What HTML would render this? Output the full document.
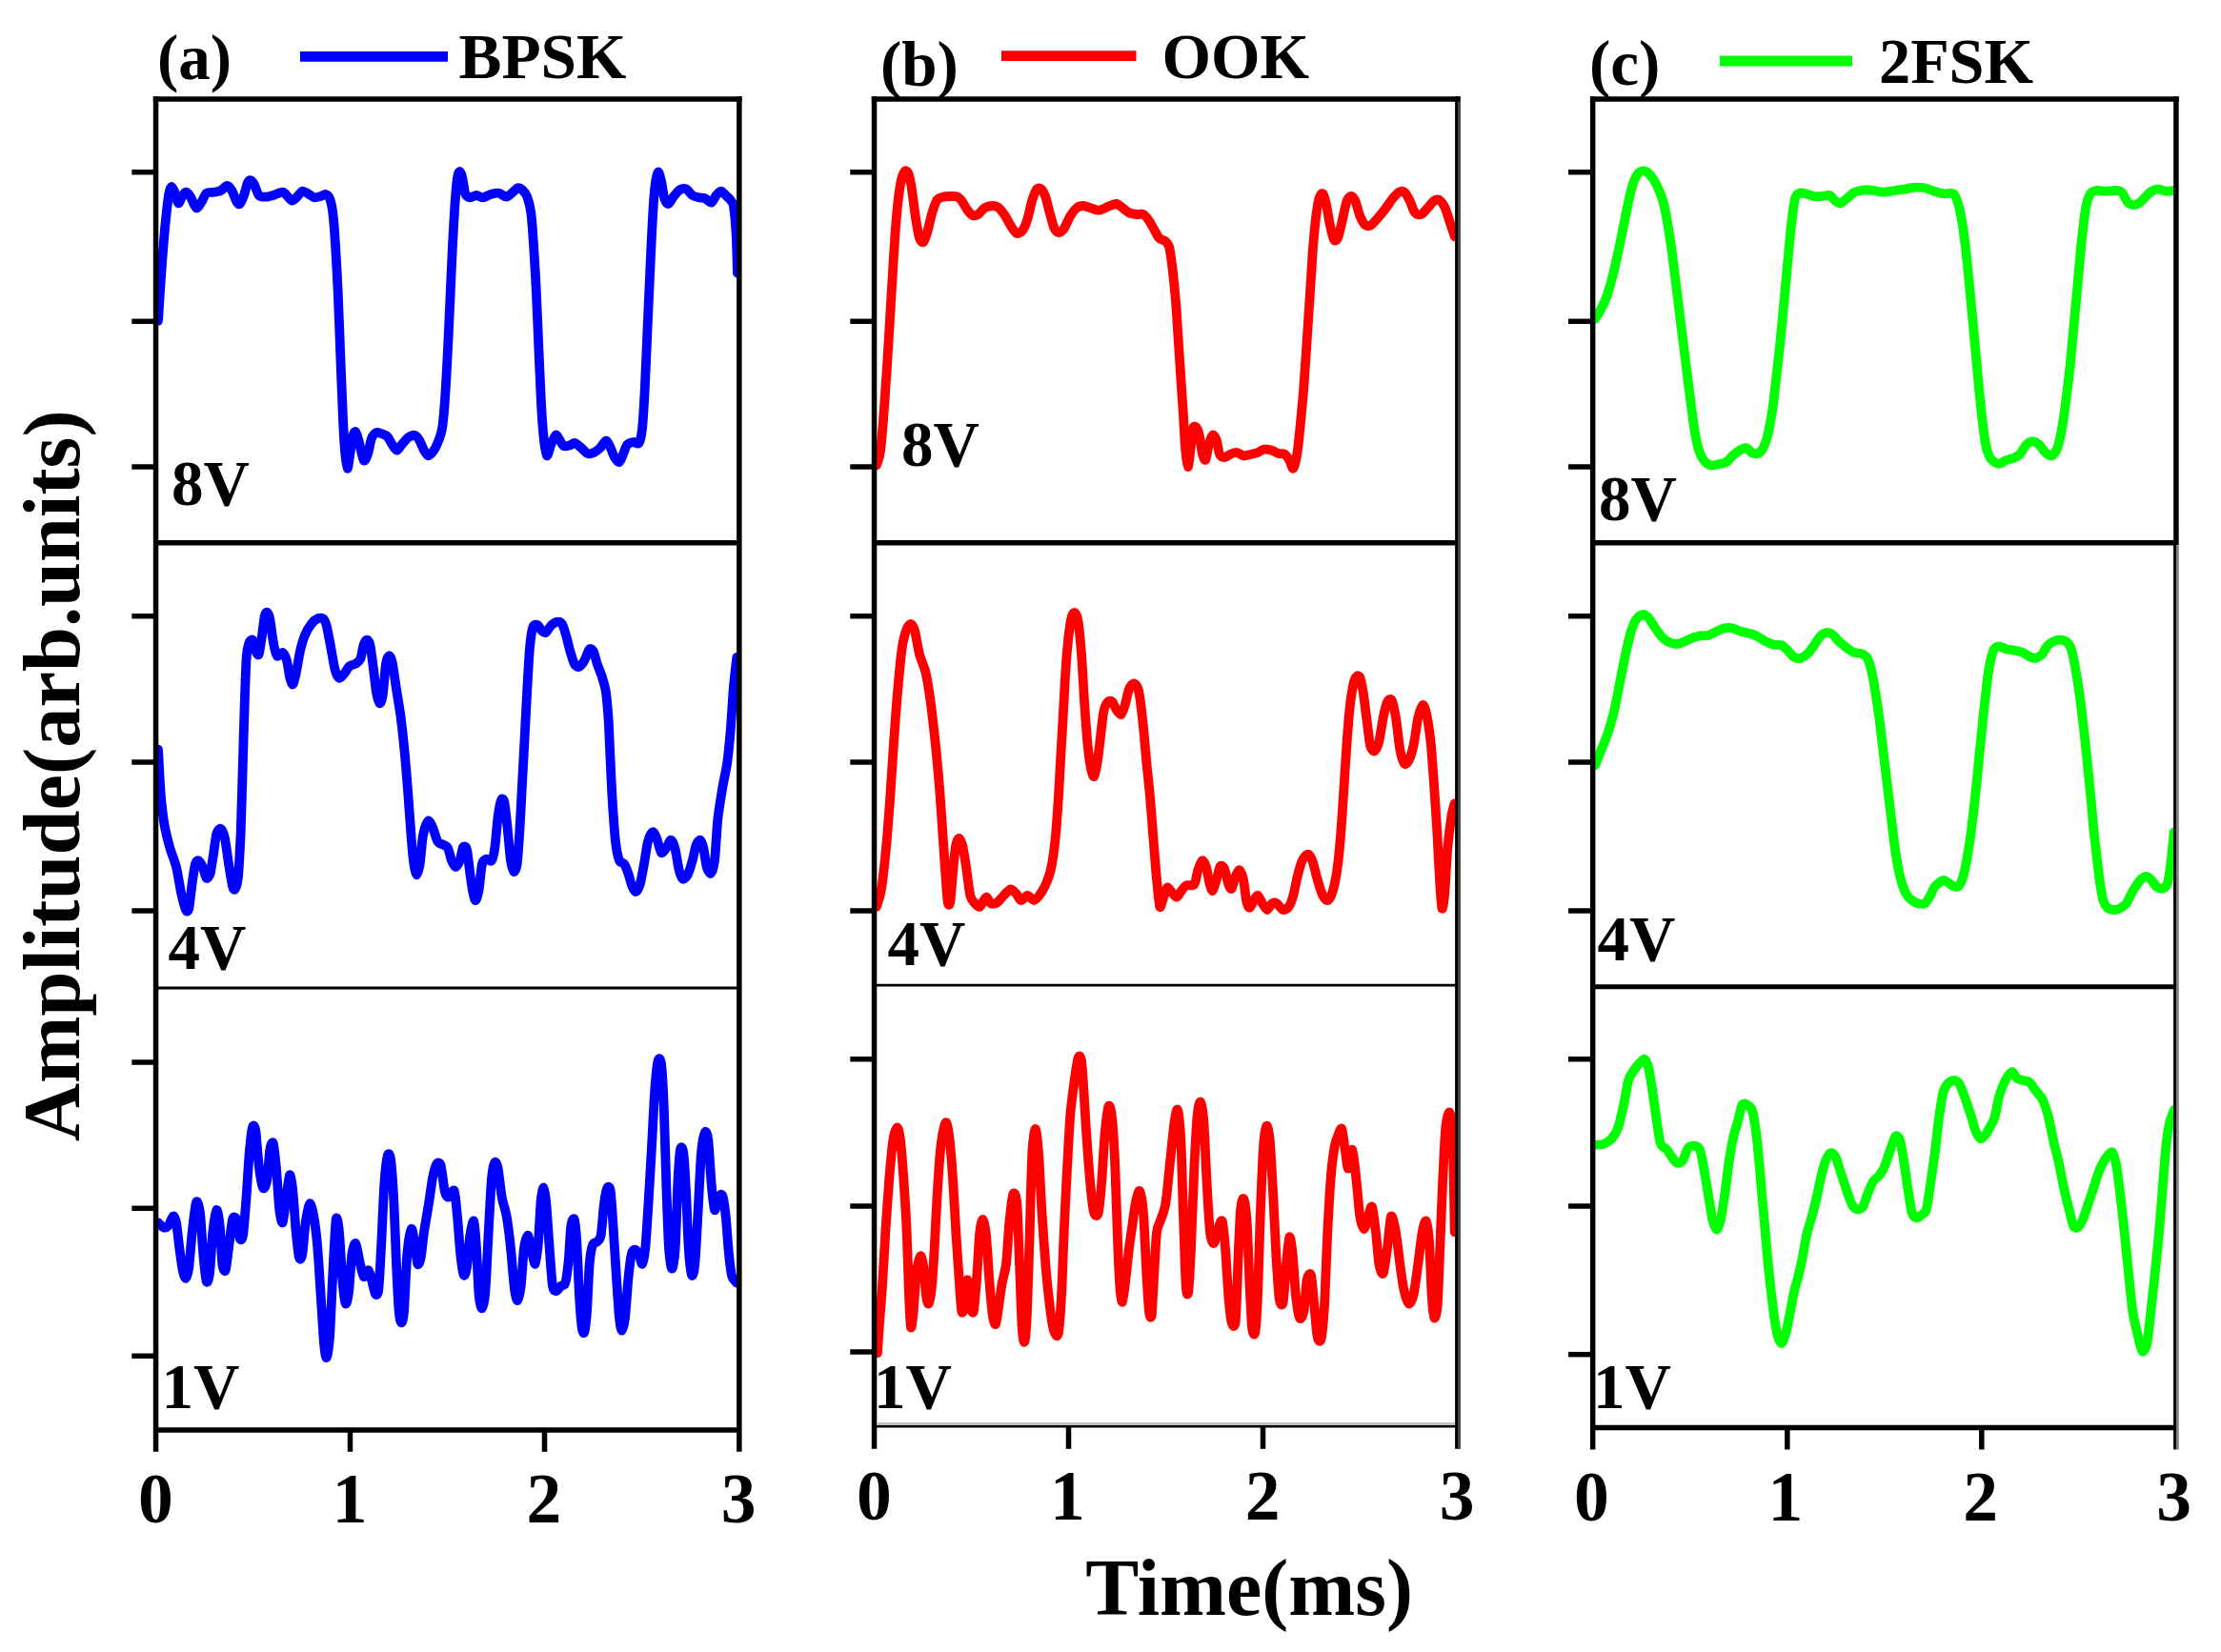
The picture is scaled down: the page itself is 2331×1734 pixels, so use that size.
<!DOCTYPE html>
<html lang="en"><head><meta charset="utf-8"><title>Demodulated waveforms: BPSK, OOK, 2FSK</title>
<style>html,body{margin:0;padding:0;background:#fff}body{width:2331px;height:1734px;overflow:hidden}svg{display:block;position:absolute;left:0;top:0}text{font-family:"Liberation Serif","Times New Roman",Times,serif;font-weight:bold;fill:#000}</style></head><body>
<svg width="2331" height="1734" viewBox="0 0 2331 1734">
<rect x="0" y="0" width="2331" height="1734" fill="#fff"/>
<defs>
<clipPath id="clipa"><rect x="163.6" y="104.0" width="612.3" height="1396.9"/></clipPath>
<clipPath id="clipb"><rect x="917.5" y="104.0" width="612.3" height="1393.2"/></clipPath>
<clipPath id="clipc"><rect x="1671.7" y="104.0" width="612.2" height="1394.5"/></clipPath>
</defs>
<path clip-path="url(#clipa)" d="M166.0,336.7C166.5,328.7 168.9,290.9 170.0,276.7C171.1,262.4 173.0,239.8 174.0,230.0C175.0,220.2 176.5,207.9 177.3,203.3C178.1,198.8 179.2,196.2 180.0,196.0C180.8,195.8 182.4,199.4 183.3,201.7C184.3,204.0 186.2,212.9 187.3,213.3C188.4,213.8 190.5,206.6 191.7,205.0C192.8,203.4 194.9,201.4 196.0,201.7C197.1,201.9 198.7,204.4 200.0,206.7C201.3,208.9 204.4,217.7 206.0,218.3C207.6,219.0 210.2,213.8 211.7,211.7C213.1,209.6 214.9,204.0 216.7,202.7C218.4,201.3 223.0,202.0 225.0,201.7C227.0,201.3 229.9,200.9 231.7,200.0C233.4,199.1 236.8,195.0 238.3,195.0C239.9,195.0 242.0,197.8 243.3,200.0C244.7,202.2 247.2,209.8 248.3,211.7C249.4,213.5 250.6,214.9 251.7,214.0C252.7,213.1 254.9,208.0 256.0,205.0C257.1,202.0 259.0,193.8 260.0,191.7C261.0,189.6 262.4,189.1 263.3,189.3C264.2,189.6 265.6,191.2 266.7,193.3C267.8,195.4 270.1,203.2 271.7,205.0C273.2,206.8 276.3,206.7 278.3,206.7C280.3,206.7 284.2,205.7 286.7,205.0C289.1,204.3 294.7,201.5 296.7,201.7C298.7,201.8 300.3,204.8 301.7,206.0C303.0,207.2 305.3,210.6 306.7,210.7C308.0,210.8 310.2,208.0 311.7,206.7C313.1,205.3 315.8,201.1 317.3,200.7C318.9,200.2 321.6,202.4 323.3,203.3C325.0,204.2 328.2,207.0 330.0,207.3C331.8,207.7 335.1,206.4 336.7,206.0C338.2,205.6 340.4,203.7 341.7,204.0C342.9,204.3 345.0,205.8 346.0,208.3C347.0,210.9 348.5,216.9 349.3,223.3C350.1,229.8 351.3,245.6 352.0,256.7C352.7,267.8 354.0,291.1 354.7,306.7C355.4,322.2 356.6,355.6 357.3,373.3C358.0,391.1 359.4,426.7 360.0,440.0C360.6,453.3 361.4,466.4 362.0,473.3C362.6,480.2 364.0,491.2 364.7,491.7C365.4,492.1 366.5,481.3 367.3,476.7C368.1,472.0 369.9,459.8 370.7,456.7C371.5,453.6 372.5,452.4 373.3,453.3C374.1,454.2 375.6,459.3 376.7,463.3C377.8,467.3 380.4,481.6 381.7,483.3C382.9,485.1 384.9,479.8 386.0,476.7C387.1,473.6 388.8,463.0 390.0,460.0C391.2,457.0 393.7,454.7 395.0,454.0C396.3,453.3 398.4,454.4 400.0,455.0C401.6,455.6 405.1,456.8 406.7,458.3C408.2,459.9 410.3,464.8 411.7,466.7C413.0,468.6 415.3,472.7 416.7,472.7C418.0,472.7 420.1,468.4 421.7,466.7C423.2,464.9 426.6,460.7 428.3,459.3C430.1,458.0 433.4,456.4 435.0,456.7C436.6,457.0 438.7,459.5 440.0,461.7C441.3,463.8 443.8,470.4 445.0,472.7C446.2,474.9 448.0,478.2 449.3,478.3C450.7,478.4 453.6,475.3 455.0,473.3C456.4,471.3 458.8,466.4 460.0,463.3C461.2,460.2 463.1,455.3 464.0,450.0C464.9,444.7 466.0,432.7 466.7,423.3C467.4,414.0 468.6,393.3 469.3,380.0C470.0,366.7 471.3,338.9 472.0,323.3C472.7,307.8 474.0,277.6 474.7,263.3C475.4,249.1 476.6,226.9 477.3,216.7C478.0,206.4 479.3,191.6 480.0,186.7C480.7,181.8 482.0,180.0 482.7,180.0C483.4,180.0 484.6,183.6 485.3,186.7C486.1,189.8 487.3,200.6 488.3,203.3C489.4,206.1 491.8,207.1 493.3,207.3C494.9,207.6 498.2,205.0 500.0,205.0C501.8,205.0 504.7,207.5 506.7,207.3C508.7,207.2 512.8,204.6 515.0,204.0C517.2,203.4 521.1,202.3 523.3,202.7C525.6,203.0 529.7,206.8 531.7,206.7C533.7,206.5 536.8,202.9 538.3,201.7C539.9,200.4 542.0,197.6 543.3,197.3C544.7,197.0 547.0,198.1 548.3,199.3C549.7,200.6 552.1,203.5 553.3,206.7C554.5,209.9 556.4,216.7 557.3,223.3C558.2,230.0 559.3,246.0 560.0,256.7C560.7,267.3 562.0,289.1 562.7,303.3C563.4,317.6 564.6,347.3 565.3,363.3C566.0,379.3 567.3,410.4 568.0,423.3C568.7,436.2 569.9,452.7 570.7,460.0C571.5,467.3 573.0,477.4 574.0,478.3C575.0,479.2 577.1,469.6 578.3,466.7C579.6,463.8 582.1,457.3 583.3,456.7C584.5,456.0 586.2,460.1 587.3,461.7C588.4,463.2 590.2,467.6 591.7,468.3C593.1,469.1 596.8,467.8 598.3,467.3C599.9,466.9 601.8,464.6 603.3,465.0C604.9,465.4 608.2,468.5 610.0,470.0C611.8,471.5 614.9,475.3 616.7,476.0C618.4,476.7 621.6,475.8 623.3,475.0C625.1,474.2 628.3,471.6 630.0,470.0C631.7,468.4 634.7,462.9 636.0,462.7C637.3,462.4 638.8,466.0 640.0,468.3C641.2,470.6 643.7,477.8 645.0,480.0C646.3,482.2 648.8,485.4 650.0,485.0C651.2,484.6 652.9,479.1 654.0,476.7C655.1,474.2 656.9,468.4 658.3,466.7C659.8,465.0 663.4,464.2 665.0,464.0C666.6,463.8 669.5,466.9 670.7,465.0C671.9,463.1 673.2,457.3 674.0,450.0C674.8,442.7 676.0,423.3 676.7,410.0C677.4,396.7 678.6,366.0 679.3,350.0C680.0,334.0 681.3,305.6 682.0,290.0C682.7,274.4 684.0,245.8 684.7,233.3C685.4,220.9 686.5,203.7 687.3,196.7C688.1,189.6 689.8,181.6 690.7,180.7C691.6,179.8 693.1,186.3 694.0,190.0C694.9,193.7 696.3,205.1 697.3,208.3C698.4,211.5 700.4,214.2 701.7,214.0C702.9,213.8 705.1,208.6 706.7,206.7C708.2,204.7 711.6,200.4 713.3,199.3C715.1,198.2 718.2,197.6 720.0,198.3C721.8,199.1 724.9,203.8 726.7,205.0C728.4,206.2 731.6,206.9 733.3,207.3C735.1,207.8 738.2,207.6 740.0,208.3C741.8,209.0 745.1,213.1 746.7,212.7C748.2,212.2 750.3,206.6 751.7,205.0C753.0,203.4 755.3,200.7 756.7,200.7C758.0,200.7 760.3,203.8 761.7,205.0C763.0,206.2 765.6,208.4 766.7,210.0C767.8,211.6 769.2,211.8 770.0,216.7C770.8,221.6 772.1,237.3 772.7,246.7C773.2,256.0 773.8,281.3 774.0,286.7" fill="none" stroke="#0000ff" stroke-width="9.8" stroke-linejoin="round" stroke-linecap="round"/>
<path clip-path="url(#clipa)" d="M166.0,786.7C166.4,792.9 167.8,822.7 168.7,833.3C169.6,844.0 171.4,859.1 172.7,866.7C174.0,874.2 176.7,884.2 178.3,890.0C180.0,895.8 183.4,903.8 185.0,910.0C186.6,916.2 188.7,930.7 190.0,936.7C191.3,942.7 193.9,952.8 195.0,955.0C196.1,957.2 197.4,957.1 198.3,953.3C199.2,949.6 200.8,932.9 201.7,926.7C202.6,920.4 204.1,909.8 205.0,906.7C205.9,903.6 207.3,902.9 208.3,903.3C209.4,903.8 211.6,907.6 212.7,910.0C213.8,912.4 215.6,920.8 216.7,921.7C217.7,922.6 219.7,920.0 220.7,916.7C221.6,913.3 223.1,902.2 224.0,896.7C224.9,891.1 226.3,878.6 227.3,875.0C228.4,871.4 230.5,869.3 231.7,870.0C232.8,870.7 234.9,875.1 236.0,880.0C237.1,884.9 238.9,900.0 240.0,906.7C241.1,913.3 243.1,926.4 244.0,930.0C244.9,933.6 245.9,934.7 246.7,933.3C247.5,932.0 249.2,928.0 250.0,920.0C250.8,912.0 252.0,888.4 252.7,873.3C253.3,858.2 254.1,824.4 254.7,806.7C255.2,788.9 256.1,755.6 256.7,740.0C257.2,724.4 258.0,698.7 258.7,690.0C259.3,681.3 260.5,677.4 261.3,675.0C262.2,672.6 264.1,670.6 265.0,671.7C265.9,672.8 267.4,681.3 268.3,683.3C269.2,685.3 270.8,688.9 271.7,686.7C272.6,684.4 274.2,672.0 275.0,666.7C275.8,661.3 277.0,649.9 277.7,646.7C278.4,643.5 279.6,642.2 280.3,642.7C281.1,643.1 282.5,645.9 283.3,650.0C284.2,654.1 285.7,668.2 286.7,673.3C287.6,678.4 289.3,686.8 290.7,688.3C292.0,689.9 295.3,684.3 296.7,685.0C298.0,685.7 300.0,690.0 301.0,693.3C302.0,696.7 303.2,706.7 304.0,710.0C304.8,713.3 306.4,718.8 307.3,718.3C308.2,717.9 309.6,711.3 310.7,706.7C311.7,702.0 313.8,688.7 315.0,683.3C316.2,678.0 318.4,670.4 320.0,666.7C321.6,662.9 324.9,657.3 326.7,655.0C328.4,652.7 331.6,650.1 333.3,649.3C335.0,648.6 338.1,648.4 339.3,649.3C340.6,650.3 341.7,653.0 342.7,656.7C343.6,660.3 345.5,670.4 346.7,676.7C347.9,682.9 350.4,698.7 351.7,703.3C352.9,708.0 354.7,711.2 356.0,711.7C357.3,712.1 360.2,708.3 361.7,706.7C363.1,705.0 365.1,700.7 366.7,699.3C368.2,698.0 371.8,697.7 373.3,696.7C374.9,695.6 377.2,694.3 378.3,691.7C379.4,689.0 380.8,679.3 381.7,676.7C382.6,674.0 384.1,671.7 385.0,671.7C385.9,671.7 387.4,672.9 388.3,676.7C389.2,680.4 390.8,693.3 391.7,700.0C392.6,706.7 394.1,721.6 395.0,726.7C395.9,731.8 397.4,737.9 398.3,738.3C399.2,738.8 400.8,735.6 401.7,730.0C402.6,724.4 404.1,702.2 405.0,696.7C405.9,691.1 407.4,688.6 408.3,688.3C409.2,688.1 410.6,690.3 411.7,695.0C412.7,699.7 414.8,715.6 416.0,723.3C417.2,731.1 419.5,744.0 420.7,753.3C421.9,762.7 424.0,782.7 425.0,793.3C426.0,804.0 427.4,821.8 428.3,833.3C429.2,844.9 430.9,870.2 431.7,880.0C432.5,889.8 433.6,901.6 434.3,906.7C435.1,911.8 436.5,918.3 437.3,918.3C438.2,918.3 439.8,912.2 440.7,906.7C441.6,901.1 442.8,882.7 444.0,876.7C445.2,870.7 448.0,862.8 449.3,861.7C450.7,860.6 452.7,865.4 454.0,868.3C455.3,871.2 457.9,880.9 459.3,883.3C460.8,885.8 463.6,885.8 465.0,886.7C466.4,887.6 468.8,887.8 470.0,890.0C471.2,892.2 472.9,900.7 474.0,903.3C475.1,906.0 477.2,910.0 478.3,910.0C479.5,910.0 481.6,906.1 482.7,903.3C483.7,900.6 485.0,890.9 486.0,889.3C487.0,887.8 489.0,888.0 490.0,891.7C491.0,895.3 492.4,910.4 493.3,916.7C494.2,922.9 495.9,934.6 496.7,938.3C497.5,942.1 498.5,945.7 499.3,945.0C500.1,944.3 501.8,938.4 502.7,933.3C503.6,928.2 504.9,910.9 506.0,906.7C507.1,902.4 509.3,902.1 510.7,901.7C512.0,901.2 514.8,904.9 516.0,903.3C517.2,901.8 518.4,896.2 519.3,890.0C520.2,883.8 521.8,863.3 522.7,856.7C523.6,850.0 525.1,842.0 526.0,840.0C526.9,838.0 528.4,837.7 529.3,841.7C530.2,845.7 531.8,861.8 532.7,870.0C533.6,878.2 535.1,897.3 536.0,903.3C536.9,909.3 538.4,914.6 539.3,915.0C540.2,915.4 541.9,912.2 542.7,906.7C543.5,901.1 544.6,884.4 545.3,873.3C546.0,862.2 547.3,836.7 548.0,823.3C548.7,810.0 550.0,786.7 550.7,773.3C551.4,760.0 552.6,735.8 553.3,723.3C554.0,710.9 555.2,688.7 556.0,680.0C556.8,671.3 558.3,661.5 559.3,658.3C560.4,655.1 562.8,655.6 564.0,656.0C565.2,656.4 567.2,660.6 568.3,661.7C569.5,662.7 571.3,664.7 572.7,664.0C574.0,663.3 576.7,658.2 578.3,656.7C580.0,655.2 583.4,652.9 585.0,652.7C586.6,652.4 588.8,653.1 590.0,655.0C591.2,656.9 592.9,662.9 594.0,666.7C595.1,670.4 597.2,679.3 598.3,683.3C599.5,687.3 601.5,694.4 602.7,696.7C603.9,698.9 605.9,700.4 607.3,700.0C608.8,699.6 611.9,695.8 613.3,693.3C614.8,690.9 617.1,683.0 618.3,681.7C619.6,680.3 621.6,681.3 622.7,683.3C623.8,685.3 625.5,693.1 626.7,696.7C627.9,700.2 630.4,706.0 631.7,710.0C632.9,714.0 635.1,720.4 636.0,726.7C636.9,732.9 638.0,746.9 638.7,756.7C639.3,766.4 640.1,788.9 640.7,800.0C641.2,811.1 642.0,828.9 642.7,840.0C643.4,851.1 645.0,874.9 646.0,883.3C647.0,891.8 648.8,900.2 650.0,903.3C651.2,906.4 653.8,904.9 655.0,906.7C656.2,908.4 658.2,913.6 659.3,916.7C660.4,919.8 662.3,927.4 663.3,930.0C664.4,932.6 666.2,936.2 667.3,936.0C668.4,935.8 670.5,932.2 671.7,928.3C672.8,924.4 674.9,912.7 676.0,906.7C677.1,900.7 678.8,887.8 680.0,883.3C681.2,878.9 683.8,873.8 685.0,873.3C686.2,872.9 688.1,877.1 689.3,880.0C690.5,882.9 692.7,893.7 694.0,895.0C695.3,896.3 698.0,891.8 699.3,890.0C700.7,888.2 702.8,881.7 704.0,881.7C705.2,881.7 707.2,885.8 708.3,890.0C709.5,894.2 711.6,909.0 712.7,913.3C713.8,917.7 715.5,922.0 716.7,922.7C717.9,923.3 720.3,920.9 721.7,918.3C723.0,915.8 725.5,907.6 726.7,903.3C727.9,899.1 729.6,889.6 730.7,886.7C731.8,883.8 734.0,881.2 735.0,881.7C736.0,882.1 737.4,886.2 738.3,890.0C739.2,893.8 740.6,906.4 741.7,910.0C742.7,913.6 744.9,917.6 746.0,916.7C747.1,915.8 749.0,910.9 750.0,903.3C751.0,895.8 752.2,870.2 753.3,860.0C754.4,849.8 757.0,834.7 758.3,826.7C759.7,818.7 762.2,808.0 763.3,800.0C764.4,792.0 765.8,777.3 766.7,766.7C767.6,756.0 769.1,730.2 770.0,720.0C770.9,709.8 772.9,694.0 773.3,690.0" fill="none" stroke="#0000ff" stroke-width="9.8" stroke-linejoin="round" stroke-linecap="round"/>
<path clip-path="url(#clipa)" d="M166.0,1283.3C166.8,1284.0 170.2,1287.9 171.7,1288.3C173.1,1288.8 175.3,1288.2 176.7,1286.7C178.0,1285.1 180.6,1277.1 181.7,1276.7C182.8,1276.2 184.1,1278.9 185.0,1283.3C185.9,1287.8 187.4,1303.3 188.3,1310.0C189.2,1316.7 190.8,1329.1 191.7,1333.3C192.6,1337.6 194.1,1342.1 195.0,1341.7C195.9,1341.2 197.4,1336.4 198.3,1330.0C199.2,1323.6 200.6,1302.4 201.7,1293.3C202.7,1284.2 204.9,1264.3 206.0,1261.7C207.1,1259.0 209.0,1266.0 210.0,1273.3C211.0,1280.7 212.4,1307.1 213.3,1316.7C214.2,1326.2 215.8,1342.3 216.7,1345.0C217.6,1347.7 219.1,1343.6 220.0,1336.7C220.9,1329.8 222.4,1302.2 223.3,1293.3C224.3,1284.4 226.4,1270.9 227.3,1270.0C228.3,1269.1 229.9,1279.1 230.7,1286.7C231.5,1294.2 232.5,1320.4 233.3,1326.7C234.1,1332.9 235.8,1335.6 236.7,1333.3C237.6,1331.1 239.0,1317.1 240.0,1310.0C241.0,1302.9 242.9,1284.0 244.0,1280.0C245.1,1276.0 247.3,1277.3 248.3,1280.0C249.4,1282.7 250.8,1297.8 251.7,1300.0C252.6,1302.2 254.1,1302.0 255.0,1296.7C255.9,1291.3 257.4,1271.6 258.3,1260.0C259.2,1248.4 260.8,1220.2 261.7,1210.0C262.6,1199.8 264.1,1186.4 265.0,1183.3C265.9,1180.2 267.4,1181.3 268.3,1186.7C269.2,1192.0 270.6,1215.3 271.7,1223.3C272.7,1231.3 274.9,1244.4 276.0,1246.7C277.1,1248.9 279.0,1245.3 280.0,1240.0C281.0,1234.7 282.4,1212.0 283.3,1206.7C284.2,1201.3 285.8,1197.3 286.7,1200.0C287.6,1202.7 289.1,1217.3 290.0,1226.7C290.9,1236.0 292.4,1262.4 293.3,1270.0C294.2,1277.6 295.8,1284.7 296.7,1283.3C297.6,1282.0 299.0,1266.7 300.0,1260.0C301.0,1253.3 303.0,1234.7 304.0,1233.3C305.0,1232.0 306.4,1242.0 307.3,1250.0C308.2,1258.0 309.8,1284.0 310.7,1293.3C311.6,1302.7 313.1,1316.9 314.0,1320.0C314.9,1323.1 316.4,1321.6 317.3,1316.7C318.2,1311.8 319.6,1290.4 320.7,1283.3C321.7,1276.2 323.8,1264.2 325.0,1263.3C326.2,1262.4 328.2,1270.4 329.3,1276.7C330.4,1282.9 332.4,1298.9 333.3,1310.0C334.3,1321.1 335.8,1346.7 336.7,1360.0C337.6,1373.3 339.2,1401.3 340.0,1410.0C340.8,1418.7 341.9,1425.9 342.7,1425.0C343.5,1424.1 345.1,1415.1 346.0,1403.3C346.9,1391.6 348.4,1353.1 349.3,1336.7C350.2,1320.2 351.8,1285.8 352.7,1280.0C353.6,1274.2 355.1,1284.9 356.0,1293.3C356.9,1301.8 358.4,1333.3 359.3,1343.3C360.2,1353.3 361.8,1366.6 362.7,1368.3C363.6,1370.1 365.1,1363.6 366.0,1356.7C366.9,1349.8 368.4,1323.6 369.3,1316.7C370.3,1309.8 372.3,1304.1 373.3,1305.0C374.4,1305.9 376.2,1318.7 377.3,1323.3C378.4,1328.0 380.4,1338.7 381.7,1340.0C382.9,1341.3 385.6,1332.9 386.7,1333.3C387.8,1333.8 389.0,1340.0 390.0,1343.3C391.0,1346.7 393.0,1357.0 394.0,1358.3C395.0,1359.7 396.5,1359.8 397.3,1353.3C398.1,1346.9 399.2,1324.7 400.0,1310.0C400.8,1295.3 402.4,1256.2 403.3,1243.3C404.2,1230.4 405.8,1216.9 406.7,1213.3C407.6,1209.8 409.1,1210.4 410.0,1216.7C410.9,1222.9 412.5,1245.3 413.3,1260.0C414.1,1274.7 415.3,1311.1 416.0,1326.7C416.7,1342.2 418.0,1368.4 418.7,1376.7C419.4,1384.9 420.6,1388.3 421.3,1388.3C422.0,1388.3 423.2,1386.2 424.0,1376.7C424.8,1367.1 426.3,1328.2 427.3,1316.7C428.4,1305.1 430.6,1291.8 431.7,1290.0C432.7,1288.2 434.1,1298.4 435.0,1303.3C435.9,1308.2 437.4,1324.4 438.3,1326.7C439.2,1328.9 440.8,1324.4 441.7,1320.0C442.6,1315.6 443.9,1300.9 445.0,1293.3C446.1,1285.8 448.8,1270.9 450.0,1263.3C451.2,1255.8 452.9,1242.2 454.0,1236.7C455.1,1231.1 457.2,1223.4 458.3,1221.7C459.5,1219.9 461.6,1219.6 462.7,1223.3C463.8,1227.1 465.6,1245.6 466.7,1250.0C467.7,1254.4 469.3,1256.7 470.7,1256.7C472.0,1256.7 475.4,1247.3 476.7,1250.0C477.9,1252.7 479.1,1267.8 480.0,1276.7C480.9,1285.6 482.4,1308.4 483.3,1316.7C484.2,1324.9 485.8,1336.6 486.7,1338.3C487.6,1340.1 489.1,1335.6 490.0,1330.0C490.9,1324.4 492.4,1303.1 493.3,1296.7C494.3,1290.2 496.4,1279.9 497.3,1281.7C498.2,1283.4 499.3,1299.6 500.0,1310.0C500.7,1320.4 501.9,1351.6 502.7,1360.0C503.5,1368.4 505.1,1373.8 506.0,1373.3C506.9,1372.9 508.4,1367.3 509.3,1356.7C510.2,1346.0 511.8,1309.3 512.7,1293.3C513.6,1277.3 515.1,1246.4 516.0,1236.7C516.9,1226.9 518.4,1221.3 519.3,1220.0C520.2,1218.7 521.7,1221.8 522.7,1226.7C523.6,1231.6 525.5,1250.0 526.7,1256.7C527.9,1263.3 530.4,1269.6 531.7,1276.7C532.9,1283.8 534.9,1299.8 536.0,1310.0C537.1,1320.2 539.0,1346.0 540.0,1353.3C541.0,1360.7 542.4,1365.4 543.3,1365.0C544.2,1364.6 545.8,1357.3 546.7,1350.0C547.6,1342.7 549.0,1317.1 550.0,1310.0C551.0,1302.9 553.0,1296.7 554.0,1296.7C555.0,1296.7 556.3,1306.0 557.3,1310.0C558.4,1314.0 560.6,1327.6 561.7,1326.7C562.7,1325.8 564.2,1312.2 565.0,1303.3C565.8,1294.4 566.9,1267.6 567.7,1260.0C568.4,1252.4 569.9,1246.2 570.7,1246.7C571.4,1247.1 572.5,1254.9 573.3,1263.3C574.1,1271.8 575.8,1298.4 576.7,1310.0C577.6,1321.6 579.0,1344.0 580.0,1350.0C581.0,1356.0 582.9,1355.0 584.0,1355.0C585.1,1355.0 587.1,1351.1 588.3,1350.0C589.6,1348.9 592.2,1350.2 593.3,1346.7C594.4,1343.1 595.9,1331.3 596.7,1323.3C597.5,1315.3 598.5,1292.4 599.3,1286.7C600.1,1280.9 601.9,1277.8 602.7,1280.0C603.5,1282.2 604.6,1292.7 605.3,1303.3C606.0,1314.0 607.3,1348.0 608.0,1360.0C608.7,1372.0 610.0,1388.2 610.7,1393.3C611.4,1398.4 612.6,1400.6 613.3,1398.3C614.0,1396.1 615.3,1386.2 616.0,1376.7C616.7,1367.1 617.9,1336.0 618.7,1326.7C619.5,1317.3 620.9,1309.8 622.0,1306.7C623.1,1303.6 625.5,1304.7 626.7,1303.3C627.8,1302.0 629.7,1302.0 630.7,1296.7C631.6,1291.3 633.1,1270.0 634.0,1263.3C634.9,1256.7 636.4,1248.4 637.3,1246.7C638.2,1244.9 639.9,1245.1 640.7,1250.0C641.5,1254.9 642.5,1271.8 643.3,1283.3C644.1,1294.9 645.8,1323.3 646.7,1336.7C647.6,1350.0 649.2,1375.3 650.0,1383.3C650.8,1391.3 651.9,1396.7 652.7,1396.7C653.5,1396.7 655.1,1390.4 656.0,1383.3C656.9,1376.2 658.4,1352.2 659.3,1343.3C660.2,1334.4 661.7,1320.9 662.7,1316.7C663.6,1312.4 665.6,1311.7 666.7,1311.7C667.7,1311.7 669.7,1314.7 670.7,1316.7C671.6,1318.7 673.1,1327.6 674.0,1326.7C674.9,1325.8 676.4,1318.9 677.3,1310.0C678.2,1301.1 679.8,1274.2 680.7,1260.0C681.6,1245.8 683.1,1218.9 684.0,1203.3C684.9,1187.8 686.4,1155.3 687.3,1143.3C688.2,1131.3 689.8,1116.9 690.7,1113.3C691.6,1109.8 693.2,1110.4 694.0,1116.7C694.8,1122.9 696.0,1143.1 696.7,1160.0C697.4,1176.9 698.6,1223.3 699.3,1243.3C700.0,1263.3 701.2,1298.2 702.0,1310.0C702.8,1321.8 704.4,1331.7 705.3,1331.7C706.2,1331.7 707.9,1321.8 708.7,1310.0C709.5,1298.2 710.6,1257.1 711.3,1243.3C712.0,1229.6 713.2,1211.1 714.0,1206.7C714.8,1202.2 716.5,1204.2 717.3,1210.0C718.1,1215.8 719.3,1236.7 720.0,1250.0C720.7,1263.3 721.9,1298.2 722.7,1310.0C723.5,1321.8 725.1,1336.1 726.0,1338.3C726.9,1340.6 728.4,1335.8 729.3,1326.7C730.2,1317.6 731.8,1285.6 732.7,1270.0C733.6,1254.4 735.0,1220.9 736.0,1210.0C737.0,1199.1 739.0,1190.1 740.0,1188.3C741.0,1186.6 742.4,1189.3 743.3,1196.7C744.2,1204.0 745.8,1233.6 746.7,1243.3C747.6,1253.1 749.0,1268.2 750.0,1270.0C751.0,1271.8 752.9,1258.7 754.0,1256.7C755.1,1254.7 757.3,1252.3 758.3,1255.0C759.4,1257.7 760.8,1268.4 761.7,1276.7C762.6,1284.9 764.1,1308.2 765.0,1316.7C765.9,1325.1 767.2,1336.0 768.3,1340.0C769.4,1344.0 772.7,1345.8 773.3,1346.7" fill="none" stroke="#0000ff" stroke-width="9.8" stroke-linejoin="round" stroke-linecap="round"/>
<path clip-path="url(#clipb)" d="M920.0,488.3C920.5,486.3 922.9,482.0 924.0,473.3C925.1,464.7 927.2,438.9 928.3,423.3C929.5,407.8 931.6,374.4 932.7,356.7C933.8,338.9 935.6,306.9 936.7,290.0C937.7,273.1 939.6,242.9 940.7,230.0C941.8,217.1 943.8,200.0 945.0,193.3C946.2,186.7 948.2,181.6 949.3,180.0C950.4,178.4 952.4,179.4 953.3,181.7C954.3,183.9 955.7,190.7 956.7,196.7C957.6,202.7 959.6,219.6 960.7,226.7C961.8,233.8 963.8,246.4 965.0,250.0C966.2,253.6 968.2,254.9 969.3,254.0C970.4,253.1 972.1,247.4 973.3,243.3C974.5,239.2 977.0,227.8 978.3,223.3C979.7,218.9 981.8,212.2 983.3,210.0C984.9,207.8 988.0,207.2 990.0,206.7C992.0,206.1 996.3,206.0 998.3,206.0C1000.3,206.0 1003.4,205.9 1005.0,206.7C1006.6,207.4 1008.7,209.9 1010.0,211.7C1011.3,213.4 1013.6,218.1 1015.0,220.0C1016.4,221.9 1019.1,225.3 1020.7,226.0C1022.2,226.7 1025.0,226.0 1026.7,225.0C1028.4,224.0 1031.3,219.5 1033.3,218.3C1035.3,217.1 1039.7,216.0 1041.7,216.0C1043.7,216.0 1046.6,216.9 1048.3,218.3C1050.1,219.8 1053.2,224.0 1055.0,226.7C1056.8,229.3 1060.0,235.9 1061.7,238.3C1063.3,240.8 1065.8,244.6 1067.3,245.0C1068.9,245.4 1071.9,243.7 1073.3,241.7C1074.8,239.7 1077.0,234.2 1078.3,230.0C1079.7,225.8 1082.0,214.2 1083.3,210.0C1084.7,205.8 1087.1,199.9 1088.3,198.3C1089.6,196.8 1091.5,197.2 1092.7,198.3C1093.9,199.4 1096.1,203.3 1097.3,206.7C1098.5,210.0 1100.4,218.9 1101.7,223.3C1102.9,227.8 1105.3,237.2 1106.7,240.0C1108.0,242.8 1110.3,244.0 1111.7,244.0C1113.0,244.0 1115.1,242.3 1116.7,240.0C1118.2,237.7 1121.6,229.6 1123.3,226.7C1125.1,223.8 1128.2,219.8 1130.0,218.3C1131.8,216.9 1134.7,216.0 1136.7,216.0C1138.7,216.0 1142.8,217.7 1145.0,218.3C1147.2,219.0 1150.9,220.9 1153.3,220.7C1155.8,220.4 1160.9,217.6 1163.3,216.7C1165.8,215.8 1169.7,213.8 1171.7,214.0C1173.7,214.2 1176.6,217.1 1178.3,218.3C1180.1,219.6 1183.0,222.4 1185.0,223.3C1187.0,224.2 1191.3,224.8 1193.3,225.0C1195.3,225.2 1198.3,224.1 1200.0,225.0C1201.7,225.9 1204.4,229.4 1206.0,231.7C1207.6,233.9 1210.2,239.2 1211.7,241.7C1213.1,244.1 1215.1,248.4 1216.7,250.0C1218.2,251.6 1221.9,252.0 1223.3,253.3C1224.8,254.7 1226.4,256.0 1227.3,260.0C1228.3,264.0 1229.8,275.8 1230.7,283.3C1231.6,290.9 1233.2,306.9 1234.0,316.7C1234.8,326.4 1236.0,346.0 1236.7,356.7C1237.4,367.3 1238.6,386.0 1239.3,396.7C1240.0,407.3 1241.4,426.9 1242.0,436.7C1242.6,446.4 1243.4,462.9 1244.0,470.0C1244.6,477.1 1246.0,489.6 1246.7,490.0C1247.4,490.4 1248.6,478.7 1249.3,473.3C1250.0,468.0 1251.2,453.3 1252.0,450.0C1252.8,446.7 1254.4,447.4 1255.3,448.3C1256.2,449.2 1257.8,452.9 1258.7,456.7C1259.6,460.4 1261.1,473.2 1262.0,476.7C1262.9,480.1 1264.4,484.0 1265.3,482.7C1266.2,481.3 1267.7,470.1 1268.7,466.7C1269.6,463.2 1271.6,457.3 1272.7,456.7C1273.7,456.0 1275.7,459.0 1276.7,461.7C1277.6,464.3 1278.9,474.2 1280.0,476.7C1281.1,479.1 1283.4,480.0 1285.0,480.0C1286.6,480.0 1289.9,477.3 1291.7,476.7C1293.4,476.0 1296.6,474.8 1298.3,475.0C1300.1,475.2 1303.0,478.1 1305.0,478.3C1307.0,478.6 1311.3,477.1 1313.3,476.7C1315.3,476.2 1318.2,475.7 1320.0,475.0C1321.8,474.3 1324.7,472.0 1326.7,471.7C1328.7,471.4 1333.0,472.1 1335.0,472.7C1337.0,473.2 1339.9,475.5 1341.7,476.0C1343.4,476.5 1346.8,475.7 1348.3,476.7C1349.9,477.6 1352.1,481.3 1353.3,483.3C1354.5,485.3 1356.3,492.6 1357.3,491.7C1358.4,490.8 1360.3,483.1 1361.3,476.7C1362.4,470.2 1364.1,452.7 1365.0,443.3C1365.9,434.0 1367.4,418.2 1368.3,406.7C1369.2,395.1 1370.8,370.0 1371.7,356.7C1372.6,343.3 1374.1,320.0 1375.0,306.7C1375.9,293.3 1377.4,267.8 1378.3,256.7C1379.2,245.6 1380.8,230.0 1381.7,223.3C1382.6,216.7 1384.1,209.3 1385.0,206.7C1385.9,204.0 1387.4,202.4 1388.3,203.3C1389.2,204.2 1390.6,208.9 1391.7,213.3C1392.7,217.8 1394.9,231.6 1396.0,236.7C1397.1,241.8 1398.9,249.9 1400.0,251.7C1401.1,253.4 1402.9,252.4 1404.0,250.0C1405.1,247.6 1407.1,238.4 1408.3,233.3C1409.6,228.2 1412.0,215.3 1413.3,211.7C1414.7,208.0 1417.1,206.0 1418.3,206.0C1419.6,206.0 1421.5,208.9 1422.7,211.7C1423.9,214.4 1426.0,223.4 1427.3,226.7C1428.7,229.9 1431.2,234.7 1432.7,236.0C1434.1,237.3 1436.7,237.5 1438.3,236.7C1440.0,235.9 1443.0,232.2 1445.0,230.0C1447.0,227.8 1451.1,222.9 1453.3,220.0C1455.6,217.1 1459.7,210.8 1461.7,208.3C1463.7,205.9 1466.7,202.6 1468.3,201.7C1470.0,200.8 1472.5,200.6 1474.0,201.7C1475.5,202.8 1477.9,207.1 1479.3,210.0C1480.8,212.9 1483.4,221.3 1485.0,223.3C1486.6,225.3 1489.9,225.7 1491.7,225.0C1493.4,224.3 1496.6,220.2 1498.3,218.3C1500.1,216.4 1503.4,211.8 1505.0,210.7C1506.6,209.6 1509.1,209.0 1510.7,210.0C1512.2,211.0 1515.2,215.2 1516.7,218.3C1518.1,221.4 1520.3,229.3 1521.7,233.3C1523.0,237.3 1526.0,246.3 1526.7,248.3" fill="none" stroke="#ff0000" stroke-width="9.8" stroke-linejoin="round" stroke-linecap="round"/>
<path clip-path="url(#clipb)" d="M920.0,951.7C920.7,949.2 923.7,941.6 925.0,933.3C926.3,925.1 928.8,902.4 930.0,890.0C931.2,877.6 932.9,854.7 934.0,840.0C935.1,825.3 936.9,795.1 938.0,780.0C939.1,764.9 940.8,740.0 942.0,726.7C943.2,713.3 945.4,688.9 946.7,680.0C948.0,671.1 950.4,663.3 951.7,660.0C952.9,656.7 954.9,654.8 956.0,655.0C957.1,655.2 958.8,657.4 960.0,661.7C961.2,665.9 963.4,680.7 965.0,686.7C966.6,692.7 970.1,700.0 971.7,706.7C973.2,713.3 975.3,726.9 976.7,736.7C978.0,746.4 980.4,768.0 981.7,780.0C982.9,792.0 985.0,814.2 986.0,826.7C987.0,839.1 988.5,861.8 989.3,873.3C990.1,884.9 991.3,903.6 992.0,913.3C992.7,923.1 994.0,942.2 994.7,946.7C995.4,951.1 996.6,950.7 997.3,946.7C998.0,942.7 999.3,924.2 1000.0,916.7C1000.7,909.1 1001.9,894.9 1002.7,890.0C1003.5,885.1 1005.0,880.4 1006.0,880.0C1007.0,879.6 1008.9,882.7 1010.0,886.7C1011.1,890.7 1012.9,902.9 1014.0,910.0C1015.1,917.1 1017.1,934.9 1018.3,940.0C1019.6,945.1 1022.0,946.8 1023.3,948.3C1024.7,949.9 1026.8,952.6 1028.3,951.7C1029.9,950.8 1033.4,942.1 1035.0,941.7C1036.6,941.2 1038.4,947.6 1040.0,948.3C1041.6,949.1 1044.9,948.4 1046.7,947.3C1048.4,946.2 1051.5,941.9 1053.3,940.0C1055.2,938.1 1058.9,933.6 1060.7,933.3C1062.4,933.1 1065.2,936.8 1066.7,938.3C1068.1,939.9 1070.1,944.8 1071.7,945.0C1073.2,945.2 1076.6,940.0 1078.3,940.0C1080.1,940.0 1083.4,945.0 1085.0,945.0C1086.6,945.0 1089.1,942.0 1090.7,940.0C1092.2,938.0 1095.1,933.6 1096.7,930.0C1098.3,926.4 1101.2,919.6 1102.7,913.3C1104.1,907.1 1106.3,893.1 1107.3,883.3C1108.4,873.6 1109.9,852.0 1110.7,840.0C1111.5,828.0 1112.6,805.8 1113.3,793.3C1114.0,780.9 1115.3,759.1 1116.0,746.7C1116.7,734.2 1117.9,710.7 1118.7,700.0C1119.4,689.3 1120.8,673.8 1121.7,666.7C1122.5,659.6 1124.1,649.8 1125.0,646.7C1125.9,643.6 1127.4,642.4 1128.3,643.3C1129.2,644.2 1130.8,647.6 1131.7,653.3C1132.6,659.1 1134.1,675.1 1135.0,686.7C1135.9,698.2 1137.4,727.1 1138.3,740.0C1139.2,752.9 1140.8,774.4 1141.7,783.3C1142.6,792.2 1144.1,802.4 1145.0,806.7C1145.9,810.9 1147.4,815.9 1148.3,815.0C1149.2,814.1 1150.8,805.6 1151.7,800.0C1152.6,794.4 1154.1,780.4 1155.0,773.3C1155.9,766.2 1157.3,751.6 1158.3,746.7C1159.4,741.8 1161.5,738.0 1162.7,736.7C1163.9,735.3 1166.1,735.6 1167.3,736.7C1168.5,737.8 1170.4,743.2 1171.7,745.0C1172.9,746.8 1175.5,750.7 1176.7,750.0C1177.9,749.3 1179.6,743.6 1180.7,740.0C1181.8,736.4 1183.8,726.4 1185.0,723.3C1186.2,720.3 1188.7,717.1 1190.0,717.3C1191.3,717.6 1193.8,719.8 1195.0,725.0C1196.2,730.2 1198.2,746.7 1199.3,756.7C1200.4,766.7 1202.3,788.9 1203.3,800.0C1204.4,811.1 1206.4,828.9 1207.3,840.0C1208.3,851.1 1209.8,872.2 1210.7,883.3C1211.6,894.4 1213.1,914.2 1214.0,923.3C1214.9,932.4 1216.4,949.0 1217.3,951.7C1218.2,954.3 1219.6,946.0 1220.7,943.3C1221.7,940.7 1223.8,932.6 1225.0,931.7C1226.2,930.8 1228.7,935.3 1230.0,936.7C1231.3,938.0 1233.7,941.9 1235.0,941.7C1236.3,941.4 1238.7,936.6 1240.0,935.0C1241.3,933.4 1243.2,930.2 1245.0,929.3C1246.8,928.4 1251.7,930.5 1253.3,928.3C1255.0,926.2 1256.2,916.7 1257.3,913.3C1258.4,910.0 1260.5,903.8 1261.7,903.3C1262.8,902.9 1265.0,906.9 1266.0,910.0C1267.0,913.1 1268.4,923.3 1269.3,926.7C1270.2,930.0 1271.7,935.4 1272.7,935.0C1273.6,934.6 1275.6,926.8 1276.7,923.3C1277.7,919.9 1279.6,910.9 1280.7,909.3C1281.8,907.8 1283.8,909.1 1285.0,911.7C1286.2,914.2 1288.3,925.5 1289.3,928.3C1290.4,931.1 1291.7,933.8 1292.7,932.7C1293.6,931.6 1295.6,922.6 1296.7,920.0C1297.7,917.4 1299.6,912.9 1300.7,913.3C1301.8,913.8 1304.0,918.9 1305.0,923.3C1306.0,927.8 1307.4,942.8 1308.3,946.7C1309.2,950.6 1310.6,952.9 1311.7,952.7C1312.7,952.4 1314.9,946.7 1316.0,945.0C1317.1,943.3 1318.8,939.6 1320.0,940.0C1321.2,940.4 1323.7,946.3 1325.0,948.3C1326.3,950.3 1328.7,955.0 1330.0,955.0C1331.3,955.0 1333.7,949.2 1335.0,948.3C1336.3,947.4 1338.4,947.4 1340.0,948.3C1341.6,949.2 1345.0,954.6 1346.7,955.0C1348.4,955.4 1351.2,953.7 1352.7,951.7C1354.1,949.7 1356.1,944.2 1357.3,940.0C1358.5,935.8 1360.4,924.9 1361.7,920.0C1362.9,915.1 1365.2,906.4 1366.7,903.3C1368.1,900.2 1371.2,896.7 1372.7,896.7C1374.1,896.7 1376.0,899.8 1377.3,903.3C1378.7,906.9 1381.2,918.4 1382.7,923.3C1384.1,928.2 1386.9,937.1 1388.3,940.0C1389.8,942.9 1392.0,945.4 1393.3,945.0C1394.7,944.6 1397.0,940.9 1398.3,936.7C1399.7,932.4 1402.1,921.8 1403.3,913.3C1404.5,904.9 1406.4,885.3 1407.3,873.3C1408.3,861.3 1409.8,836.7 1410.7,823.3C1411.6,810.0 1413.1,784.9 1414.0,773.3C1414.9,761.8 1416.3,744.7 1417.3,736.7C1418.4,728.7 1420.4,716.9 1421.7,713.3C1422.9,709.8 1425.5,708.2 1426.7,710.0C1427.9,711.8 1429.6,720.0 1430.7,726.7C1431.8,733.3 1434.0,752.4 1435.0,760.0C1436.0,767.6 1437.3,779.6 1438.3,783.3C1439.4,787.1 1441.5,789.0 1442.7,788.3C1443.9,787.7 1446.1,783.0 1447.3,778.3C1448.5,773.7 1450.5,758.9 1451.7,753.3C1452.8,747.8 1454.8,739.1 1456.0,736.7C1457.2,734.2 1459.5,732.8 1460.7,735.0C1461.9,737.2 1463.8,746.4 1465.0,753.3C1466.2,760.2 1468.1,780.2 1469.3,786.7C1470.5,793.1 1472.7,800.3 1474.0,801.7C1475.3,803.0 1478.0,799.6 1479.3,796.7C1480.7,793.8 1482.8,785.8 1484.0,780.0C1485.2,774.2 1487.1,758.7 1488.3,753.3C1489.6,748.0 1492.1,740.4 1493.3,740.0C1494.5,739.6 1496.2,744.7 1497.3,750.0C1498.4,755.3 1500.6,770.2 1501.7,780.0C1502.7,789.8 1504.1,810.9 1505.0,823.3C1505.9,835.8 1507.5,860.0 1508.3,873.3C1509.1,886.7 1510.3,912.7 1511.0,923.3C1511.7,934.0 1512.7,951.1 1513.3,953.3C1514.0,955.6 1515.2,948.4 1516.0,940.0C1516.8,931.6 1518.4,901.1 1519.3,890.0C1520.3,878.9 1522.4,862.9 1523.3,856.7C1524.3,850.4 1526.2,845.1 1526.7,843.3" fill="none" stroke="#ff0000" stroke-width="9.8" stroke-linejoin="round" stroke-linecap="round"/>
<path clip-path="url(#clipb)" d="M921.0,1420.0C921.2,1416.4 922.0,1402.7 922.7,1393.3C923.3,1384.0 925.1,1363.3 926.0,1350.0C926.9,1336.7 928.4,1308.4 929.3,1293.3C930.3,1278.2 932.3,1249.6 933.3,1236.7C934.4,1223.8 936.2,1203.8 937.3,1196.7C938.4,1189.6 940.6,1183.3 941.7,1183.3C942.7,1183.3 944.1,1189.6 945.0,1196.7C945.9,1203.8 947.4,1223.8 948.3,1236.7C949.2,1249.6 950.9,1276.9 951.7,1293.3C952.4,1309.8 953.4,1346.7 954.0,1360.0C954.6,1373.3 955.4,1391.1 956.0,1393.3C956.6,1395.6 957.9,1384.2 958.7,1376.7C959.4,1369.1 960.7,1344.4 961.7,1336.7C962.6,1328.9 965.0,1319.2 966.0,1318.3C967.0,1317.4 968.5,1324.4 969.3,1330.0C970.1,1335.6 971.3,1354.9 972.0,1360.0C972.7,1365.1 973.9,1369.7 974.7,1368.3C975.5,1367.0 977.2,1357.8 978.0,1350.0C978.8,1342.2 980.0,1322.0 980.7,1310.0C981.4,1298.0 982.5,1273.3 983.3,1260.0C984.1,1246.7 985.8,1219.8 986.7,1210.0C987.6,1200.2 989.1,1190.9 990.0,1186.7C990.9,1182.4 992.4,1177.0 993.3,1178.3C994.2,1179.7 995.8,1188.9 996.7,1196.7C997.6,1204.4 999.1,1223.8 1000.0,1236.7C1000.9,1249.6 1002.4,1279.1 1003.3,1293.3C1004.2,1307.6 1005.9,1332.2 1006.7,1343.3C1007.5,1354.4 1008.5,1373.1 1009.3,1376.7C1010.1,1380.2 1011.9,1374.4 1012.7,1370.0C1013.5,1365.6 1014.6,1343.3 1015.3,1343.3C1016.1,1343.3 1017.5,1365.6 1018.3,1370.0C1019.2,1374.4 1020.8,1380.2 1021.7,1376.7C1022.6,1373.1 1024.1,1354.4 1025.0,1343.3C1025.9,1332.2 1027.4,1301.8 1028.3,1293.3C1029.2,1284.9 1030.8,1279.6 1031.7,1280.0C1032.6,1280.4 1034.1,1288.2 1035.0,1296.7C1035.9,1305.1 1037.4,1332.2 1038.3,1343.3C1039.2,1354.4 1040.8,1373.8 1041.7,1380.0C1042.6,1386.2 1044.1,1391.3 1045.0,1390.0C1045.9,1388.7 1047.4,1375.8 1048.3,1370.0C1049.2,1364.2 1050.6,1352.4 1051.7,1346.7C1052.7,1340.9 1055.0,1335.1 1056.0,1326.7C1057.0,1318.2 1058.4,1293.1 1059.3,1283.3C1060.3,1273.6 1062.3,1256.0 1063.3,1253.3C1064.4,1250.7 1066.4,1253.6 1067.3,1263.3C1068.2,1273.1 1069.3,1309.3 1070.0,1326.7C1070.7,1344.0 1072.0,1382.4 1072.7,1393.3C1073.4,1404.2 1074.6,1410.6 1075.3,1408.3C1076.0,1406.1 1077.3,1392.0 1078.0,1376.7C1078.7,1361.3 1080.0,1315.6 1080.7,1293.3C1081.4,1271.1 1082.5,1224.4 1083.3,1210.0C1084.1,1195.6 1085.8,1185.0 1086.7,1185.0C1087.6,1185.0 1089.1,1198.7 1090.0,1210.0C1090.9,1221.3 1092.4,1254.4 1093.3,1270.0C1094.3,1285.6 1096.2,1313.3 1097.3,1326.7C1098.4,1340.0 1100.5,1360.7 1101.7,1370.0C1102.8,1379.3 1104.8,1392.7 1106.0,1396.7C1107.2,1400.7 1109.6,1404.9 1110.7,1400.0C1111.7,1395.1 1113.2,1374.2 1114.0,1360.0C1114.8,1345.8 1115.9,1311.1 1116.7,1293.3C1117.5,1275.6 1119.1,1243.1 1120.0,1226.7C1120.9,1210.2 1122.4,1182.0 1123.3,1170.0C1124.3,1158.0 1126.2,1144.7 1127.3,1136.7C1128.4,1128.7 1130.6,1113.1 1131.7,1110.0C1132.7,1106.9 1134.2,1108.9 1135.0,1113.3C1135.8,1117.8 1136.6,1132.2 1137.3,1143.3C1138.1,1154.4 1139.6,1182.4 1140.7,1196.7C1141.7,1210.9 1144.0,1239.8 1145.0,1250.0C1146.0,1260.2 1147.3,1270.2 1148.3,1273.3C1149.4,1276.4 1151.6,1277.3 1152.7,1273.3C1153.7,1269.3 1155.1,1254.0 1156.0,1243.3C1156.9,1232.7 1158.4,1204.2 1159.3,1193.3C1160.3,1182.4 1162.4,1164.8 1163.3,1161.7C1164.3,1158.6 1165.8,1162.7 1166.7,1170.0C1167.6,1177.3 1169.2,1200.2 1170.0,1216.7C1170.8,1233.1 1172.0,1275.6 1172.7,1293.3C1173.4,1311.1 1174.6,1340.2 1175.3,1350.0C1176.0,1359.8 1177.2,1367.6 1178.0,1366.7C1178.8,1365.8 1180.4,1350.9 1181.3,1343.3C1182.3,1335.8 1184.1,1317.6 1185.0,1310.0C1185.9,1302.4 1187.4,1292.9 1188.3,1286.7C1189.2,1280.4 1190.6,1268.2 1191.7,1263.3C1192.7,1258.4 1194.9,1248.7 1196.0,1250.0C1197.1,1251.3 1199.0,1261.8 1200.0,1273.3C1201.0,1284.9 1202.5,1322.9 1203.3,1336.7C1204.1,1350.4 1205.3,1370.9 1206.0,1376.7C1206.7,1382.4 1208.0,1385.3 1208.7,1380.0C1209.4,1374.7 1210.6,1348.2 1211.3,1336.7C1212.0,1325.1 1213.1,1300.9 1214.0,1293.3C1214.9,1285.8 1217.1,1284.0 1218.3,1280.0C1219.6,1276.0 1222.0,1271.8 1223.3,1263.3C1224.7,1254.9 1227.1,1228.2 1228.3,1216.7C1229.6,1205.1 1231.6,1183.6 1232.7,1176.7C1233.7,1169.8 1235.1,1162.3 1236.0,1165.0C1236.9,1167.7 1238.5,1181.8 1239.3,1196.7C1240.1,1211.6 1241.3,1256.2 1242.0,1276.7C1242.7,1297.1 1244.0,1339.6 1244.7,1350.0C1245.4,1360.4 1246.6,1360.3 1247.3,1355.0C1248.0,1349.7 1249.2,1327.1 1250.0,1310.0C1250.8,1292.9 1252.4,1245.3 1253.3,1226.7C1254.2,1208.0 1255.8,1179.3 1256.7,1170.0C1257.6,1160.7 1259.1,1155.8 1260.0,1156.7C1260.9,1157.6 1262.4,1165.1 1263.3,1176.7C1264.2,1188.2 1265.8,1227.8 1266.7,1243.3C1267.6,1258.9 1269.0,1285.1 1270.0,1293.3C1271.0,1301.6 1272.9,1305.4 1274.0,1305.0C1275.1,1304.6 1277.2,1293.1 1278.3,1290.0C1279.5,1286.9 1281.6,1279.0 1282.7,1281.7C1283.7,1284.3 1285.1,1299.6 1286.0,1310.0C1286.9,1320.4 1288.4,1349.6 1289.3,1360.0C1290.2,1370.4 1291.7,1384.8 1292.7,1388.3C1293.6,1391.9 1295.8,1394.9 1296.7,1386.7C1297.6,1378.4 1298.6,1342.2 1299.3,1326.7C1300.0,1311.1 1301.2,1279.1 1302.0,1270.0C1302.8,1260.9 1304.4,1256.6 1305.3,1258.3C1306.2,1260.1 1307.9,1272.0 1308.7,1283.3C1309.5,1294.7 1310.6,1328.7 1311.3,1343.3C1312.0,1358.0 1313.2,1386.0 1314.0,1393.3C1314.8,1400.7 1316.5,1402.8 1317.3,1398.3C1318.1,1393.9 1319.3,1376.2 1320.0,1360.0C1320.7,1343.8 1321.9,1297.6 1322.7,1276.7C1323.5,1255.8 1325.1,1216.0 1326.0,1203.3C1326.9,1190.7 1328.4,1182.6 1329.3,1181.7C1330.2,1180.8 1331.8,1187.6 1332.7,1196.7C1333.6,1205.8 1335.1,1234.0 1336.0,1250.0C1336.9,1266.0 1338.4,1301.6 1339.3,1316.7C1340.2,1331.8 1341.7,1356.7 1342.7,1363.3C1343.6,1370.0 1345.7,1371.6 1346.7,1366.7C1347.6,1361.8 1349.1,1335.8 1350.0,1326.7C1350.9,1317.6 1352.4,1299.7 1353.3,1298.3C1354.2,1297.0 1355.8,1308.4 1356.7,1316.7C1357.6,1324.9 1359.0,1351.1 1360.0,1360.0C1361.0,1368.9 1362.9,1381.1 1364.0,1383.3C1365.1,1385.6 1367.3,1382.0 1368.3,1376.7C1369.4,1371.3 1370.6,1348.4 1371.7,1343.3C1372.7,1338.2 1375.0,1334.8 1376.0,1338.3C1377.0,1341.9 1378.4,1361.3 1379.3,1370.0C1380.2,1378.7 1381.7,1398.7 1382.7,1403.3C1383.6,1408.0 1385.7,1409.4 1386.7,1405.0C1387.6,1400.6 1389.1,1384.9 1390.0,1370.0C1390.9,1355.1 1392.4,1311.1 1393.3,1293.3C1394.2,1275.6 1395.7,1248.7 1396.7,1236.7C1397.6,1224.7 1399.6,1209.6 1400.7,1203.3C1401.8,1197.1 1404.0,1192.4 1405.0,1190.0C1406.0,1187.6 1407.4,1182.8 1408.3,1185.0C1409.2,1187.2 1410.8,1201.1 1411.7,1206.7C1412.6,1212.2 1414.0,1226.7 1415.0,1226.7C1416.0,1226.7 1418.2,1205.3 1419.3,1206.7C1420.4,1208.0 1422.3,1227.3 1423.3,1236.7C1424.4,1246.0 1426.2,1269.6 1427.3,1276.7C1428.4,1283.8 1430.5,1290.0 1431.7,1290.0C1432.8,1290.0 1434.9,1279.8 1436.0,1276.7C1437.1,1273.6 1438.9,1264.4 1440.0,1266.7C1441.1,1268.9 1443.0,1285.3 1444.0,1293.3C1445.0,1301.3 1446.3,1320.9 1447.3,1326.7C1448.4,1332.4 1450.5,1338.9 1451.7,1336.7C1452.8,1334.4 1454.9,1318.0 1456.0,1310.0C1457.1,1302.0 1458.8,1278.9 1460.0,1276.7C1461.2,1274.4 1463.8,1286.7 1465.0,1293.3C1466.2,1300.0 1468.2,1318.7 1469.3,1326.7C1470.4,1334.7 1472.1,1347.8 1473.3,1353.3C1474.5,1358.9 1477.0,1367.4 1478.3,1368.3C1479.7,1369.2 1482.0,1365.6 1483.3,1360.0C1484.7,1354.4 1487.1,1335.6 1488.3,1326.7C1489.6,1317.8 1491.6,1299.3 1492.7,1293.3C1493.8,1287.3 1495.7,1280.3 1496.7,1281.7C1497.6,1283.0 1499.2,1292.9 1500.0,1303.3C1500.8,1313.8 1502.0,1349.3 1502.7,1360.0C1503.4,1370.7 1504.5,1382.0 1505.3,1383.3C1506.1,1384.7 1507.9,1379.8 1508.7,1370.0C1509.5,1360.2 1510.6,1326.9 1511.3,1310.0C1512.0,1293.1 1513.2,1260.2 1514.0,1243.3C1514.8,1226.4 1516.3,1193.3 1517.3,1183.3C1518.4,1173.3 1520.6,1164.8 1521.7,1168.3C1522.7,1171.9 1524.3,1193.3 1525.0,1210.0C1525.7,1226.7 1526.4,1282.2 1526.7,1293.3" fill="none" stroke="#ff0000" stroke-width="9.8" stroke-linejoin="round" stroke-linecap="round"/>
<path clip-path="url(#clipc)" d="M1674.0,335.0C1674.8,333.7 1678.3,328.3 1680.0,325.0C1681.7,321.7 1684.9,315.1 1686.7,310.0C1688.4,304.9 1691.6,293.8 1693.3,286.7C1695.1,279.6 1698.2,265.1 1700.0,256.7C1701.8,248.2 1705.0,231.3 1706.7,223.3C1708.4,215.3 1711.1,202.0 1712.7,196.7C1714.2,191.3 1716.7,185.6 1718.3,183.3C1720.0,181.0 1723.2,179.3 1725.0,179.3C1726.8,179.3 1729.9,181.5 1731.7,183.3C1733.4,185.2 1736.6,189.8 1738.3,193.3C1740.1,196.9 1743.4,204.7 1745.0,210.0C1746.6,215.3 1748.7,225.8 1750.0,233.3C1751.3,240.9 1753.7,256.9 1755.0,266.7C1756.3,276.4 1758.7,296.0 1760.0,306.7C1761.3,317.3 1763.7,336.0 1765.0,346.7C1766.3,357.3 1768.7,376.0 1770.0,386.7C1771.3,397.3 1773.8,417.3 1775.0,426.7C1776.2,436.0 1778.2,450.4 1779.3,456.7C1780.4,462.9 1782.1,469.8 1783.3,473.3C1784.5,476.9 1786.8,481.3 1788.3,483.3C1789.9,485.3 1793.0,487.8 1795.0,488.3C1797.0,488.9 1801.1,487.8 1803.3,487.3C1805.6,486.9 1809.7,486.2 1811.7,485.0C1813.7,483.8 1816.6,479.9 1818.3,478.3C1820.1,476.8 1823.1,474.4 1825.0,473.3C1826.9,472.2 1830.9,469.8 1832.7,470.0C1834.4,470.2 1836.7,474.2 1838.3,475.0C1840.0,475.8 1843.4,476.7 1845.0,476.0C1846.6,475.3 1849.2,473.0 1850.7,470.0C1852.1,467.0 1854.7,459.1 1856.0,453.3C1857.3,447.6 1859.5,435.1 1860.7,426.7C1861.9,418.2 1863.8,400.2 1865.0,390.0C1866.2,379.8 1868.2,361.1 1869.3,350.0C1870.4,338.9 1872.3,318.2 1873.3,306.7C1874.4,295.1 1876.4,273.6 1877.3,263.3C1878.3,253.1 1879.8,237.3 1880.7,230.0C1881.6,222.7 1883.0,212.0 1884.0,208.3C1885.0,204.7 1886.9,203.3 1888.3,202.7C1889.8,202.0 1893.0,202.9 1895.0,203.3C1897.0,203.8 1901.1,205.6 1903.3,206.0C1905.6,206.4 1909.4,206.1 1911.7,206.0C1913.9,205.9 1918.1,204.4 1920.0,205.0C1921.9,205.6 1924.4,209.6 1926.0,210.7C1927.6,211.8 1930.0,213.6 1931.7,213.3C1933.3,213.0 1936.3,209.9 1938.3,208.3C1940.3,206.8 1944.2,202.9 1946.7,201.7C1949.1,200.5 1954.0,199.6 1956.7,199.3C1959.3,199.1 1964.0,199.7 1966.7,200.0C1969.3,200.3 1973.8,201.7 1976.7,201.7C1979.6,201.7 1985.2,200.4 1988.3,200.0C1991.4,199.6 1997.1,198.8 2000.0,198.3C2002.9,197.9 2007.3,196.8 2010.0,196.7C2012.7,196.5 2017.3,196.8 2020.0,197.3C2022.7,197.9 2027.3,199.9 2030.0,200.7C2032.7,201.5 2037.3,203.0 2040.0,203.3C2042.7,203.7 2048.0,202.0 2050.0,203.3C2052.0,204.7 2053.8,209.3 2055.0,213.3C2056.2,217.3 2058.2,226.7 2059.3,233.3C2060.4,240.0 2062.3,254.0 2063.3,263.3C2064.4,272.7 2066.2,291.8 2067.3,303.3C2068.4,314.9 2070.5,337.6 2071.7,350.0C2072.8,362.4 2074.9,385.1 2076.0,396.7C2077.1,408.2 2078.9,427.3 2080.0,436.7C2081.1,446.0 2082.9,460.9 2084.0,466.7C2085.1,472.4 2087.1,477.6 2088.3,480.0C2089.6,482.4 2092.0,484.1 2093.3,485.0C2094.7,485.9 2096.8,486.9 2098.3,486.7C2099.9,486.4 2103.0,484.1 2105.0,483.3C2107.0,482.5 2111.3,481.6 2113.3,480.7C2115.3,479.8 2118.2,478.5 2120.0,476.7C2121.8,474.8 2124.9,468.4 2126.7,466.7C2128.4,464.9 2131.6,463.3 2133.3,463.3C2135.1,463.3 2138.2,465.1 2140.0,466.7C2141.8,468.2 2144.9,473.4 2146.7,475.0C2148.4,476.6 2151.6,479.0 2153.3,478.3C2155.0,477.7 2157.9,473.8 2159.3,470.0C2160.8,466.2 2162.8,456.7 2164.0,450.0C2165.2,443.3 2167.2,428.9 2168.3,420.0C2169.5,411.1 2171.6,394.0 2172.7,383.3C2173.8,372.7 2175.6,351.6 2176.7,340.0C2177.7,328.4 2179.6,308.7 2180.7,296.7C2181.8,284.7 2183.8,260.7 2185.0,250.0C2186.2,239.3 2188.1,222.9 2189.3,216.7C2190.5,210.4 2192.6,205.6 2194.0,203.3C2195.4,201.1 2197.9,200.4 2200.0,200.0C2202.1,199.6 2207.3,200.7 2210.0,200.7C2212.7,200.7 2217.8,199.9 2220.0,200.0C2222.2,200.1 2225.0,200.1 2226.7,201.7C2228.4,203.2 2231.1,209.9 2232.7,211.7C2234.2,213.4 2236.7,214.8 2238.3,215.0C2240.0,215.2 2243.2,214.4 2245.0,213.3C2246.8,212.2 2249.9,208.4 2251.7,206.7C2253.4,205.0 2256.6,201.8 2258.3,200.7C2260.1,199.6 2263.0,198.3 2265.0,198.3C2267.0,198.3 2271.1,200.4 2273.3,200.7C2275.6,200.9 2280.6,200.1 2281.7,200.0" fill="none" stroke="#00ff00" stroke-width="9.8" stroke-linejoin="round" stroke-linecap="round"/>
<path clip-path="url(#clipc)" d="M1674.0,803.3C1674.9,801.1 1678.9,791.1 1680.7,786.7C1682.4,782.2 1685.6,775.3 1687.3,770.0C1689.1,764.7 1692.3,753.8 1694.0,746.7C1695.7,739.6 1698.4,724.7 1700.0,716.7C1701.6,708.7 1704.4,693.8 1706.0,686.7C1707.6,679.6 1710.2,668.2 1711.7,663.3C1713.2,658.4 1715.7,652.4 1717.3,650.0C1719.0,647.6 1722.3,645.2 1724.0,645.0C1725.7,644.8 1728.3,646.6 1730.0,648.3C1731.7,650.1 1734.8,655.7 1736.7,658.3C1738.5,661.0 1742.0,666.2 1744.0,668.3C1746.0,670.4 1749.5,673.0 1751.7,674.0C1753.8,675.0 1757.8,676.1 1760.0,676.0C1762.2,675.9 1766.1,674.2 1768.3,673.3C1770.6,672.4 1774.4,670.1 1776.7,669.3C1778.9,668.5 1782.8,667.7 1785.0,667.3C1787.2,667.0 1791.1,667.3 1793.3,666.7C1795.6,666.0 1799.4,663.6 1801.7,662.7C1803.9,661.7 1807.8,659.8 1810.0,659.3C1812.2,658.9 1816.1,658.9 1818.3,659.3C1820.6,659.8 1824.2,661.9 1826.7,662.7C1829.1,663.4 1834.2,664.2 1836.7,665.0C1839.1,665.8 1842.8,667.2 1845.0,668.3C1847.2,669.4 1851.1,672.2 1853.3,673.3C1855.6,674.4 1859.4,676.1 1861.7,676.7C1863.9,677.2 1868.0,676.4 1870.0,677.3C1872.0,678.2 1874.9,681.6 1876.7,683.3C1878.4,685.0 1881.6,689.0 1883.3,690.0C1885.1,691.0 1888.2,691.1 1890.0,690.7C1891.8,690.2 1894.9,688.3 1896.7,686.7C1898.4,685.0 1901.6,680.8 1903.3,678.3C1905.1,675.9 1908.2,670.2 1910.0,668.3C1911.8,666.4 1914.9,664.3 1916.7,664.0C1918.4,663.7 1921.6,664.8 1923.3,666.0C1925.1,667.2 1928.0,671.5 1930.0,673.3C1932.0,675.2 1936.2,678.4 1938.3,680.0C1940.5,681.6 1944.0,684.2 1946.0,685.0C1948.0,685.8 1951.6,685.3 1953.3,686.0C1955.1,686.7 1957.9,687.7 1959.3,690.0C1960.8,692.3 1962.8,698.4 1964.0,703.3C1965.2,708.2 1967.2,719.6 1968.3,726.7C1969.5,733.8 1971.6,748.2 1972.7,756.7C1973.8,765.1 1975.6,781.1 1976.7,790.0C1977.7,798.9 1979.6,814.4 1980.7,823.3C1981.7,832.2 1983.6,848.2 1984.7,856.7C1985.7,865.1 1987.4,879.6 1988.3,886.7C1989.3,893.8 1991.0,904.7 1992.0,910.0C1993.0,915.3 1994.8,922.9 1996.0,926.7C1997.2,930.4 1999.2,935.9 2000.7,938.3C2002.1,940.8 2005.0,943.7 2006.7,945.0C2008.4,946.3 2011.6,947.9 2013.3,948.3C2015.1,948.8 2018.4,949.2 2020.0,948.3C2021.6,947.4 2023.7,943.9 2025.0,941.7C2026.3,939.4 2028.7,933.7 2030.0,931.7C2031.3,929.7 2033.7,927.7 2035.0,926.7C2036.3,925.6 2038.7,924.0 2040.0,924.0C2041.3,924.0 2043.7,925.9 2045.0,926.7C2046.3,927.5 2048.7,929.5 2050.0,930.0C2051.3,930.5 2053.8,931.6 2055.0,930.7C2056.2,929.8 2058.1,927.0 2059.3,923.3C2060.5,919.7 2062.8,910.0 2064.0,903.3C2065.2,896.7 2067.4,882.7 2068.7,873.3C2069.9,864.0 2072.2,844.0 2073.3,833.3C2074.5,822.7 2076.3,804.0 2077.3,793.3C2078.4,782.7 2080.3,763.1 2081.3,753.3C2082.4,743.6 2084.1,727.6 2085.0,720.0C2085.9,712.4 2087.3,701.8 2088.3,696.7C2089.4,691.6 2091.3,684.1 2092.7,681.7C2094.0,679.2 2096.5,678.3 2098.3,678.3C2100.2,678.3 2104.4,681.1 2106.7,681.7C2108.9,682.2 2112.8,682.2 2115.0,682.7C2117.2,683.1 2121.3,684.1 2123.3,685.0C2125.3,685.9 2128.2,688.6 2130.0,689.3C2131.8,690.1 2134.9,691.0 2136.7,690.7C2138.4,690.3 2141.8,688.3 2143.3,686.7C2144.9,685.0 2146.8,680.1 2148.3,678.3C2149.9,676.6 2153.2,674.2 2155.0,673.3C2156.8,672.4 2159.9,671.7 2161.7,671.7C2163.4,671.7 2166.8,672.2 2168.3,673.3C2169.9,674.4 2172.1,676.9 2173.3,680.0C2174.5,683.1 2176.2,690.9 2177.3,696.7C2178.4,702.4 2180.5,715.3 2181.7,723.3C2182.8,731.3 2184.9,747.3 2186.0,756.7C2187.1,766.0 2188.9,783.1 2190.0,793.3C2191.1,803.6 2193.0,823.1 2194.0,833.3C2195.0,843.6 2196.4,861.1 2197.3,870.0C2198.2,878.9 2199.8,892.4 2200.7,900.0C2201.6,907.6 2203.1,920.7 2204.0,926.7C2204.9,932.7 2206.3,941.5 2207.3,945.0C2208.4,948.5 2210.2,951.3 2211.7,952.7C2213.1,954.0 2216.6,954.9 2218.3,955.0C2220.1,955.1 2223.2,954.2 2225.0,953.3C2226.8,952.4 2230.1,950.3 2231.7,948.3C2233.2,946.3 2235.3,940.8 2236.7,938.3C2238.0,935.9 2240.2,932.1 2241.7,930.0C2243.1,927.9 2245.8,924.0 2247.3,922.7C2248.9,921.3 2251.9,919.8 2253.3,920.0C2254.8,920.2 2257.0,922.6 2258.3,924.0C2259.7,925.4 2261.8,929.5 2263.3,930.7C2264.9,931.8 2268.4,933.2 2270.0,932.7C2271.6,932.1 2273.9,930.1 2275.0,926.7C2276.1,923.2 2277.4,913.8 2278.3,906.7C2279.2,899.6 2281.2,877.8 2281.7,873.3" fill="none" stroke="#00ff00" stroke-width="9.8" stroke-linejoin="round" stroke-linecap="round"/>
<path clip-path="url(#clipc)" d="M1674.0,1201.7C1675.2,1201.5 1681.0,1201.6 1683.3,1200.7C1685.7,1199.8 1689.7,1197.3 1691.7,1195.0C1693.7,1192.7 1696.7,1188.0 1698.3,1183.3C1700.0,1178.7 1702.5,1166.7 1704.0,1160.0C1705.5,1153.3 1707.7,1138.4 1709.3,1133.3C1710.9,1128.2 1714.4,1124.1 1716.0,1121.7C1717.6,1119.2 1720.3,1116.3 1721.7,1115.0C1723.0,1113.7 1724.9,1111.0 1726.0,1111.7C1727.1,1112.3 1728.9,1115.8 1730.0,1120.0C1731.1,1124.2 1732.9,1136.2 1734.0,1143.3C1735.1,1150.4 1737.2,1165.8 1738.3,1173.3C1739.5,1180.9 1741.2,1195.6 1742.7,1200.0C1744.1,1204.4 1747.7,1204.7 1749.3,1206.7C1751.0,1208.7 1753.6,1213.1 1755.0,1215.0C1756.4,1216.9 1758.5,1220.2 1760.0,1220.7C1761.5,1221.1 1764.4,1220.4 1766.0,1218.3C1767.6,1216.2 1770.0,1207.1 1771.7,1205.0C1773.3,1202.9 1776.7,1202.4 1778.3,1202.7C1780.0,1202.9 1782.7,1203.5 1784.0,1206.7C1785.3,1209.9 1787.1,1220.0 1788.3,1226.7C1789.6,1233.3 1792.1,1249.6 1793.3,1256.7C1794.5,1263.8 1796.2,1275.5 1797.3,1280.0C1798.4,1284.5 1800.5,1290.7 1801.7,1290.7C1802.8,1290.7 1804.8,1285.4 1806.0,1280.0C1807.2,1274.6 1809.5,1258.4 1810.7,1250.0C1811.9,1241.6 1813.8,1224.2 1815.0,1216.7C1816.2,1209.1 1818.1,1198.7 1819.3,1193.3C1820.5,1188.0 1822.8,1181.1 1824.0,1176.7C1825.2,1172.2 1827.1,1162.3 1828.3,1160.0C1829.6,1157.7 1831.9,1158.4 1833.3,1159.3C1834.8,1160.2 1837.9,1161.7 1839.3,1166.7C1840.8,1171.6 1842.8,1186.4 1844.0,1196.7C1845.2,1206.9 1847.2,1230.4 1848.3,1243.3C1849.5,1256.2 1851.6,1281.8 1852.7,1293.3C1853.7,1304.9 1855.1,1321.1 1856.0,1330.0C1856.9,1338.9 1858.4,1352.4 1859.3,1360.0C1860.2,1367.6 1861.8,1380.9 1862.7,1386.7C1863.6,1392.4 1865.0,1400.2 1866.0,1403.3C1867.0,1406.4 1868.9,1410.4 1870.0,1410.0C1871.1,1409.6 1872.9,1404.0 1874.0,1400.0C1875.1,1396.0 1877.2,1385.8 1878.3,1380.0C1879.5,1374.2 1881.5,1362.0 1882.7,1356.7C1883.9,1351.3 1886.1,1344.9 1887.3,1340.0C1888.5,1335.1 1890.5,1325.8 1891.7,1320.0C1892.8,1314.2 1894.7,1302.4 1896.0,1296.7C1897.3,1290.9 1900.2,1282.0 1901.7,1276.7C1903.1,1271.3 1905.3,1262.4 1906.7,1256.7C1908.0,1250.9 1910.3,1238.7 1911.7,1233.3C1913.0,1228.0 1915.3,1219.8 1916.7,1216.7C1918.0,1213.6 1920.3,1210.2 1921.7,1210.0C1923.0,1209.8 1925.3,1212.3 1926.7,1215.0C1928.0,1217.7 1930.1,1225.3 1931.7,1230.0C1933.2,1234.7 1936.7,1245.3 1938.3,1250.0C1940.0,1254.7 1942.5,1262.4 1944.0,1265.0C1945.5,1267.6 1947.9,1269.1 1949.3,1269.3C1950.8,1269.6 1953.6,1268.8 1955.0,1266.7C1956.4,1264.5 1958.5,1256.9 1960.0,1253.3C1961.5,1249.8 1964.3,1242.7 1966.0,1240.0C1967.7,1237.3 1971.0,1235.6 1972.7,1233.3C1974.3,1231.1 1976.8,1226.9 1978.3,1223.3C1979.8,1219.8 1982.5,1210.8 1984.0,1206.7C1985.5,1202.6 1988.0,1194.0 1989.3,1192.7C1990.7,1191.3 1992.8,1193.0 1994.0,1196.7C1995.2,1200.3 1997.2,1212.9 1998.3,1220.0C1999.5,1227.1 2001.6,1242.9 2002.7,1250.0C2003.8,1257.1 2005.5,1269.6 2006.7,1273.3C2007.9,1277.1 2010.3,1278.1 2011.7,1278.3C2013.0,1278.6 2015.3,1276.1 2016.7,1275.0C2018.0,1273.9 2020.4,1274.2 2021.7,1270.0C2022.9,1265.8 2024.8,1251.3 2026.0,1243.3C2027.2,1235.3 2029.5,1219.3 2030.7,1210.0C2031.9,1200.7 2033.8,1181.8 2035.0,1173.3C2036.2,1164.9 2038.0,1151.6 2039.3,1146.7C2040.7,1141.8 2043.4,1138.4 2045.0,1136.7C2046.6,1135.0 2050.1,1133.8 2051.7,1134.0C2053.2,1134.2 2055.2,1135.8 2056.7,1138.3C2058.1,1140.9 2061.1,1149.1 2062.7,1153.3C2064.2,1157.6 2066.9,1165.6 2068.3,1170.0C2069.8,1174.4 2072.0,1183.3 2073.3,1186.7C2074.7,1190.0 2077.0,1194.3 2078.3,1195.0C2079.7,1195.7 2082.0,1193.2 2083.3,1191.7C2084.7,1190.1 2087.0,1185.8 2088.3,1183.3C2089.7,1180.9 2092.0,1177.8 2093.3,1173.3C2094.7,1168.9 2096.8,1155.3 2098.3,1150.0C2099.9,1144.7 2103.2,1136.7 2105.0,1133.3C2106.8,1130.0 2110.1,1125.2 2111.7,1125.0C2113.2,1124.8 2115.1,1130.5 2116.7,1131.7C2118.2,1132.9 2121.6,1133.4 2123.3,1134.0C2125.1,1134.6 2128.2,1134.5 2130.0,1136.0C2131.8,1137.5 2134.9,1142.7 2136.7,1145.0C2138.4,1147.3 2141.6,1150.0 2143.3,1153.3C2145.0,1156.7 2147.8,1164.2 2149.3,1170.0C2150.9,1175.8 2153.5,1190.0 2155.0,1196.7C2156.5,1203.3 2159.2,1213.3 2160.7,1220.0C2162.1,1226.7 2164.5,1240.0 2166.0,1246.7C2167.5,1253.3 2170.3,1264.7 2171.7,1270.0C2173.0,1275.3 2174.8,1284.2 2176.0,1286.7C2177.2,1289.1 2179.3,1289.2 2180.7,1288.3C2182.0,1287.4 2184.5,1283.3 2186.0,1280.0C2187.5,1276.7 2190.2,1267.8 2191.7,1263.3C2193.2,1258.9 2195.9,1251.1 2197.3,1246.7C2198.8,1242.2 2201.2,1233.8 2202.7,1230.0C2204.1,1226.2 2206.9,1220.8 2208.3,1218.3C2209.8,1215.9 2212.1,1212.8 2213.3,1211.7C2214.5,1210.6 2216.2,1208.0 2217.3,1210.0C2218.4,1212.0 2220.5,1220.0 2221.7,1226.7C2222.8,1233.3 2224.9,1250.7 2226.0,1260.0C2227.1,1269.3 2228.9,1286.4 2230.0,1296.7C2231.1,1306.9 2232.9,1326.0 2234.0,1336.7C2235.1,1347.3 2237.1,1368.2 2238.3,1376.7C2239.6,1385.1 2242.0,1394.4 2243.3,1400.0C2244.7,1405.6 2247.0,1417.0 2248.3,1418.3C2249.7,1419.7 2252.1,1415.6 2253.3,1410.0C2254.5,1404.4 2256.2,1386.4 2257.3,1376.7C2258.4,1366.9 2260.5,1347.8 2261.7,1336.7C2262.8,1325.6 2264.9,1305.8 2266.0,1293.3C2267.1,1280.9 2269.0,1255.3 2270.0,1243.3C2271.0,1231.3 2272.4,1211.8 2273.3,1203.3C2274.2,1194.9 2275.6,1185.1 2276.7,1180.0C2277.8,1174.9 2281.0,1167.0 2281.7,1165.0" fill="none" stroke="#00ff00" stroke-width="9.8" stroke-linejoin="round" stroke-linecap="round"/>
<g stroke="#000" fill="none"><line x1="163.55" y1="101.3" x2="163.55" y2="1523.8" stroke-width="5.5"/><line x1="775.85" y1="101.3" x2="775.85" y2="1523.8" stroke-width="5.5"/><line x1="160.8" y1="104.0" x2="778.6" y2="104.0" stroke-width="5.5"/><line x1="163.6" y1="569.8" x2="775.9" y2="569.8" stroke-width="5.5"/><line x1="163.6" y1="1037.0" x2="775.9" y2="1037.0" stroke-width="2.8"/><line x1="163.6" y1="1501.0" x2="775.9" y2="1501.0" stroke-width="5.5"/><line x1="367.5" y1="1501.0" x2="367.5" y2="1523.8" stroke-width="5.5"/><line x1="571.5" y1="1501.0" x2="571.5" y2="1523.8" stroke-width="5.5"/><line x1="138.3" y1="180.7" x2="163.6" y2="180.7" stroke-width="5.5"/><line x1="138.3" y1="337.3" x2="163.6" y2="337.3" stroke-width="5.5"/><line x1="138.3" y1="490.0" x2="163.6" y2="490.0" stroke-width="5.5"/><line x1="138.3" y1="646.7" x2="163.6" y2="646.7" stroke-width="5.5"/><line x1="138.3" y1="800.0" x2="163.6" y2="800.0" stroke-width="5.5"/><line x1="138.3" y1="956.0" x2="163.6" y2="956.0" stroke-width="5.5"/><line x1="138.3" y1="1115.0" x2="163.6" y2="1115.0" stroke-width="5.5"/><line x1="138.3" y1="1268.3" x2="163.6" y2="1268.3" stroke-width="5.5"/><line x1="138.3" y1="1423.3" x2="163.6" y2="1423.3" stroke-width="5.5"/></g>
<g stroke="#000" fill="none"><line x1="917.55" y1="101.3" x2="917.55" y2="1520.8" stroke-width="5.5"/><line x1="1529.85" y1="101.3" x2="1529.85" y2="1520.8" stroke-width="5.5"/><line x1="1531.30" y1="106.8" x2="1531.30" y2="1520.8" stroke-width="2.7" stroke="#444"/><line x1="914.8" y1="104.0" x2="1532.6" y2="104.0" stroke-width="5.5"/><line x1="917.5" y1="569.8" x2="1529.8" y2="569.8" stroke-width="5.5"/><line x1="917.5" y1="1034.2" x2="1529.8" y2="1034.2" stroke-width="2.8"/><line x1="917.5" y1="1497.2" x2="1529.8" y2="1497.2" stroke-width="2.7"/><line x1="920.2" y1="1494.5" x2="1527.1" y2="1494.5" stroke-width="2.9" stroke="#c0c0c0"/><line x1="1121.5" y1="1497.2" x2="1121.5" y2="1520.8" stroke-width="5.5"/><line x1="1325.5" y1="1497.2" x2="1325.5" y2="1520.8" stroke-width="5.5"/><line x1="892.3" y1="180.7" x2="917.5" y2="180.7" stroke-width="5.5"/><line x1="892.3" y1="337.3" x2="917.5" y2="337.3" stroke-width="5.5"/><line x1="892.3" y1="490.0" x2="917.5" y2="490.0" stroke-width="5.5"/><line x1="892.3" y1="646.7" x2="917.5" y2="646.7" stroke-width="5.5"/><line x1="892.3" y1="800.0" x2="917.5" y2="800.0" stroke-width="5.5"/><line x1="892.3" y1="956.0" x2="917.5" y2="956.0" stroke-width="5.5"/><line x1="892.3" y1="1111.7" x2="917.5" y2="1111.7" stroke-width="5.5"/><line x1="892.3" y1="1266.0" x2="917.5" y2="1266.0" stroke-width="5.5"/><line x1="892.3" y1="1419.0" x2="917.5" y2="1419.0" stroke-width="5.5"/></g>
<g stroke="#000" fill="none"><line x1="1671.65" y1="101.3" x2="1671.65" y2="1521.5" stroke-width="5.5"/><line x1="2283.9" y1="101.3" x2="2283.9" y2="572.3" stroke-width="5.5"/><line x1="2282.50" y1="569.8" x2="2282.50" y2="1521.5" stroke-width="2.9"/><line x1="2285.35" y1="572.5" x2="2285.35" y2="1521.5" stroke-width="2.8" stroke="#808080"/><line x1="1668.9" y1="104.0" x2="2286.7" y2="104.0" stroke-width="5.5"/><line x1="1671.7" y1="569.8" x2="2283.9" y2="569.8" stroke-width="5.5"/><line x1="1671.7" y1="1035.8" x2="2283.9" y2="1035.8" stroke-width="5.0"/><line x1="1671.7" y1="1498.5" x2="2283.9" y2="1498.5" stroke-width="5.4"/><line x1="1875.8" y1="1498.5" x2="1875.8" y2="1521.5" stroke-width="5.5"/><line x1="2079.8" y1="1498.5" x2="2079.8" y2="1521.5" stroke-width="5.5"/><line x1="1646.0" y1="180.7" x2="1671.7" y2="180.7" stroke-width="5.5"/><line x1="1646.0" y1="337.3" x2="1671.7" y2="337.3" stroke-width="5.5"/><line x1="1646.0" y1="490.0" x2="1671.7" y2="490.0" stroke-width="5.5"/><line x1="1646.0" y1="646.7" x2="1671.7" y2="646.7" stroke-width="5.5"/><line x1="1646.0" y1="800.0" x2="1671.7" y2="800.0" stroke-width="5.5"/><line x1="1646.0" y1="956.0" x2="1671.7" y2="956.0" stroke-width="5.5"/><line x1="1646.0" y1="1111.7" x2="1671.7" y2="1111.7" stroke-width="5.5"/><line x1="1646.0" y1="1266.0" x2="1671.7" y2="1266.0" stroke-width="5.5"/><line x1="1646.0" y1="1421.7" x2="1671.7" y2="1421.7" stroke-width="5.5"/></g>
<line x1="315" y1="59.3" x2="470" y2="59.3" stroke="#0000ff" stroke-width="10.8"/>
<line x1="1051" y1="58.7" x2="1192.5" y2="58.7" stroke="#ff0000" stroke-width="10.8"/>
<line x1="1805" y1="64" x2="1944" y2="64" stroke="#00ff00" stroke-width="10.8"/>
<text x="165.0" y="83.0" font-size="67.0" text-anchor="start">(a)</text>
<text x="481.5" y="81.7" font-size="68.0" text-anchor="start" textLength="176" lengthAdjust="spacingAndGlyphs">BPSK</text>
<text x="924.0" y="90.0" font-size="67.0" text-anchor="start">(b)</text>
<text x="1219.5" y="81.7" font-size="68.0" text-anchor="start" textLength="154.5" lengthAdjust="spacingAndGlyphs">OOK</text>
<text x="1668.0" y="89.3" font-size="67.0" text-anchor="start">(c)</text>
<text x="1972.0" y="87.0" font-size="68.0" text-anchor="start" textLength="162" lengthAdjust="spacingAndGlyphs">2FSK</text>
<text x="180.0" y="530.3" font-size="67.0" text-anchor="start">8V</text>
<text x="176.5" y="1017.3" font-size="67.0" text-anchor="start">4V</text>
<text x="169.5" y="1477.8" font-size="67.0" text-anchor="start">1V</text>
<text x="946.0" y="488.8" font-size="67.0" text-anchor="start">8V</text>
<text x="931.5" y="1012.5" font-size="67.0" text-anchor="start">4V</text>
<text x="917.0" y="1477.8" font-size="67.0" text-anchor="start">1V</text>
<text x="1678.0" y="546.2" font-size="67.0" text-anchor="start">8V</text>
<text x="1676.5" y="1007.6" font-size="67.0" text-anchor="start">4V</text>
<text x="1672.0" y="1477.8" font-size="67.0" text-anchor="start">1V</text>
<text x="163.3" y="1597.8" font-size="73.5" text-anchor="middle">0</text>
<text x="367.0" y="1597.8" font-size="73.5" text-anchor="middle">1</text>
<text x="570.8" y="1597.8" font-size="73.5" text-anchor="middle">2</text>
<text x="775.0" y="1597.8" font-size="73.5" text-anchor="middle">3</text>
<text x="917.3" y="1595.0" font-size="73.5" text-anchor="middle">0</text>
<text x="1120.3" y="1595.0" font-size="73.5" text-anchor="middle">1</text>
<text x="1325.0" y="1595.0" font-size="73.5" text-anchor="middle">2</text>
<text x="1529.0" y="1595.0" font-size="73.5" text-anchor="middle">3</text>
<text x="1670.3" y="1596.0" font-size="73.5" text-anchor="middle">0</text>
<text x="1873.8" y="1596.0" font-size="73.5" text-anchor="middle">1</text>
<text x="2078.7" y="1596.0" font-size="73.5" text-anchor="middle">2</text>
<text x="2281.7" y="1596.0" font-size="73.5" text-anchor="middle">3</text>
<text x="1311.0" y="1695.0" font-size="84.0" text-anchor="middle">Time(ms)</text>
<text transform="translate(82.5,1198) rotate(-90)" font-size="84.5" x="0" y="0">Amplitude(arb.units)</text>
</svg></body></html>
